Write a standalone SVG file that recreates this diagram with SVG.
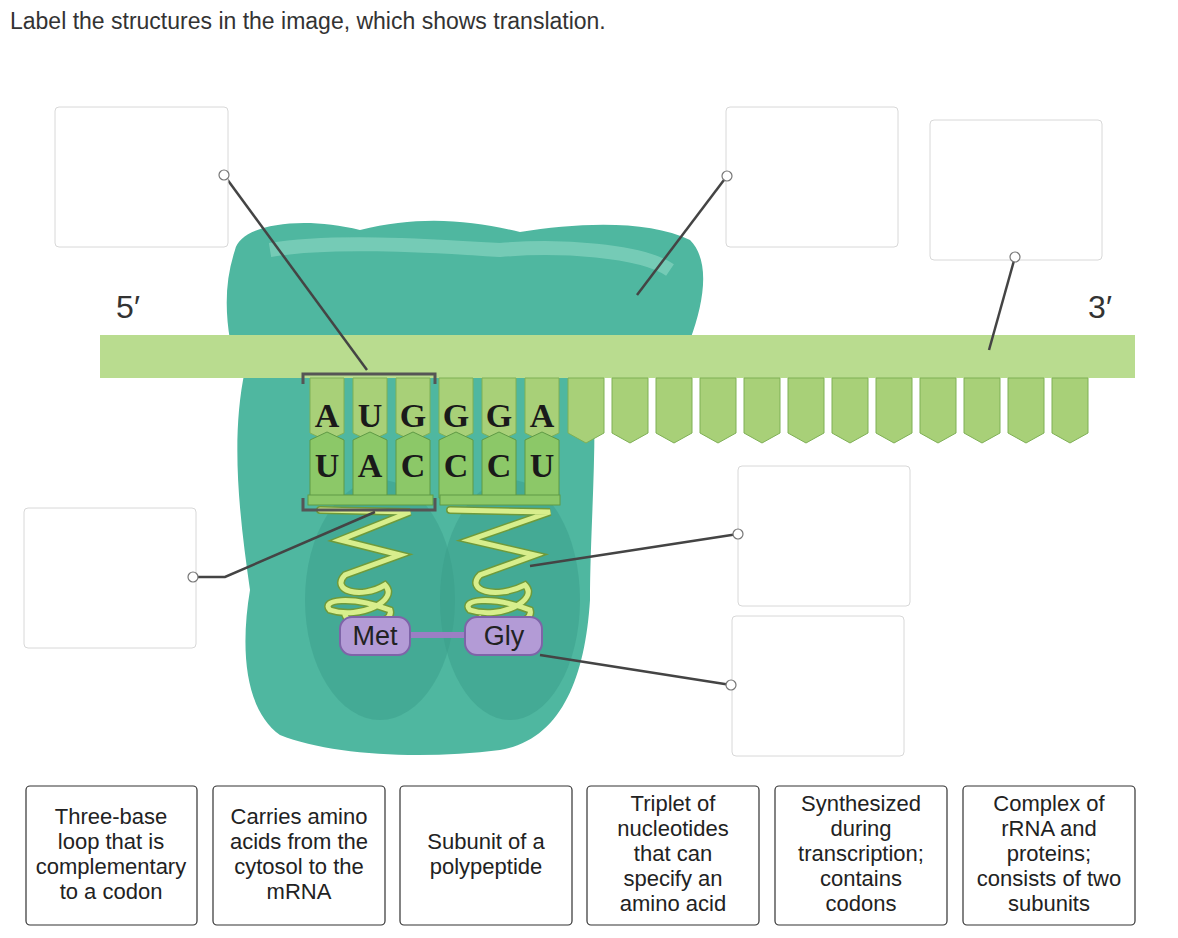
<svg xmlns="http://www.w3.org/2000/svg" width="1178" height="938" viewBox="0 0 1178 938">
<style>
.ans{fill:#fff;stroke:#d8d8d8;stroke-width:1}
.lab{fill:#fff;stroke:#333;stroke-width:1.2}
.t{font-family:"Liberation Sans",Arial,sans-serif;font-size:22px;fill:#222;text-anchor:middle}
.aat{font-family:"Liberation Sans",Arial,sans-serif;font-size:27px;fill:#222;text-anchor:middle}
.nt{font-family:"Liberation Serif","Times New Roman",serif;font-size:34px;font-weight:bold;fill:#1a1a1a;text-anchor:middle}
.ld{stroke:#444;stroke-width:2.5;fill:none}
.hd{fill:#fff;stroke:#777;stroke-width:1.2}
.tooth{fill:#a8d078;stroke:#7fb055;stroke-width:1}
.coil{fill:none;stroke:#6f9a3a;stroke-width:8;stroke-linecap:round}
.coil2{fill:none;stroke:#d8ee8c;stroke-width:5;stroke-linecap:round}
.aa{fill:#b39bd6;stroke:#7e64a8;stroke-width:2}
.br{fill:none;stroke:#555;stroke-width:3}
</style>
<rect width="1178" height="938" fill="#fff"/>
<text x="10" y="29" font-family="'Liberation Sans',Arial,sans-serif" font-size="23" fill="#333">Label the structures in the image, which shows translation.</text>
<g id="ribosome">
<path d="M235,250 C240,225 300,215 360,230 C420,215 470,220 520,232 C580,222 650,220 690,240 C710,260 705,300 690,340 L590,345 C600,420 590,520 590,600 C585,680 560,740 500,750 C420,760 330,755 280,735 C245,710 240,650 250,590 C240,520 230,440 245,370 L230,340 C225,310 225,280 235,250 Z" fill="#4fb7a0"/>
<path d="M270,250 C330,240 420,245 500,250 C560,245 640,250 670,270" stroke="#8fd8c4" stroke-width="14" fill="none" opacity="0.6"/>
<ellipse cx="380" cy="600" rx="75" ry="120" fill="#3a9e8a" opacity="0.5"/>
<ellipse cx="510" cy="600" rx="70" ry="120" fill="#3a9e8a" opacity="0.5"/>
</g>
<g id="mrna">
<rect x="100" y="335" width="1035" height="43" fill="#b9dc8f"/>
<g id="teeth">
<path class="tooth" d="M568,378h36v55l-18,10l-18,-10z"/>
<path class="tooth" d="M612,378h36v55l-18,10l-18,-10z"/>
<path class="tooth" d="M656,378h36v55l-18,10l-18,-10z"/>
<path class="tooth" d="M700,378h36v55l-18,10l-18,-10z"/>
<path class="tooth" d="M744,378h36v55l-18,10l-18,-10z"/>
<path class="tooth" d="M788,378h36v55l-18,10l-18,-10z"/>
<path class="tooth" d="M832,378h36v55l-18,10l-18,-10z"/>
<path class="tooth" d="M876,378h36v55l-18,10l-18,-10z"/>
<path class="tooth" d="M920,378h36v55l-18,10l-18,-10z"/>
<path class="tooth" d="M964,378h36v55l-18,10l-18,-10z"/>
<path class="tooth" d="M1008,378h36v55l-18,10l-18,-10z"/>
<path class="tooth" d="M1052,378h36v55l-18,10l-18,-10z"/>
</g>
<g id="codons">
<path class="tooth" d="M310,378h34v55l-17,8l-17,-8z"/>
<path class="tooth" d="M353,378h34v55l-17,8l-17,-8z"/>
<path class="tooth" d="M396,378h34v55l-17,8l-17,-8z"/>
<path class="tooth" d="M439,378h34v55l-17,8l-17,-8z"/>
<path class="tooth" d="M482,378h34v55l-17,8l-17,-8z"/>
<path class="tooth" d="M525,378h34v55l-17,8l-17,-8z"/>
<path d="M310,440l17,-8l17,8v58h-34z M353,440l17,-8l17,8v58h-34z M396,440l17,-8l17,8v58h-34z" fill="#8cc868" stroke="#5f9a45"/>
<rect x="308" y="495" width="125" height="10" fill="#8cc868" stroke="#5f9a45"/>
<path d="M439,440l17,-8l17,8v58h-34z M482,440l17,-8l17,8v58h-34z M525,440l17,-8l17,8v58h-34z" fill="#8cc868" stroke="#5f9a45"/>
<rect x="440" y="495" width="120" height="10" fill="#8cc868" stroke="#5f9a45"/>
<text class="nt" x="327" y="427">A</text><text class="nt" x="370" y="427">U</text><text class="nt" x="413" y="427">G</text><text class="nt" x="456" y="427">G</text><text class="nt" x="499" y="427">G</text><text class="nt" x="542" y="427">A</text>
<text class="nt" x="327" y="477">U</text><text class="nt" x="370" y="477">A</text><text class="nt" x="413" y="477">C</text><text class="nt" x="456" y="477">C</text><text class="nt" x="499" y="477">C</text><text class="nt" x="542" y="477">U</text>
</g>
<text x="128" y="318" font-family="'Liberation Sans',Arial,sans-serif" font-size="32" fill="#333" text-anchor="middle">5′</text>
<text x="1100" y="318" font-family="'Liberation Sans',Arial,sans-serif" font-size="32" fill="#333" text-anchor="middle">3′</text>
</g>
<g id="trna">
<g>
<path class="coil" d="M320,510 L410,512 L340,540 L400,555 L345,575 C330,590 360,600 385,585 C400,600 360,620 330,610 C320,600 350,595 390,610 C395,625 350,630 345,615"/>
<path class="coil2" d="M320,510 L410,512 L340,540 L400,555 L345,575 C330,590 360,600 385,585 C400,600 360,620 330,610 C320,600 350,595 390,610 C395,625 350,630 345,615"/>
</g>
<g>
<path class="coil" d="M450,510 L550,512 L470,540 L535,555 L480,575 C465,590 495,600 525,585 C540,600 500,620 470,610 C460,600 490,595 530,610 C535,625 490,630 480,618"/>
<path class="coil2" d="M450,510 L550,512 L470,540 L535,555 L480,575 C465,590 495,600 525,585 C540,600 500,620 470,610 C460,600 490,595 530,610 C535,625 490,630 480,618"/>
</g>
</g>
<g id="peptide">
<line x1="405" y1="635" x2="470" y2="635" stroke="#9b7fc4" stroke-width="6"/>
<rect class="aa" x="340" y="617" width="70" height="38" rx="12"/>
<rect class="aa" x="465" y="617" width="77" height="38" rx="12"/>
<text class="aat" x="375" y="645">Met</text>
<text class="aat" x="504" y="645">Gly</text>
</g>
<g id="brackets">
<path class="br" d="M303,384v-10h132v10"/>
<path class="br" d="M303,498v12h132v-12"/>
</g>
<g id="connectors">
<path class="ld" d="M224,175 L367,370"/>
<path class="ld" d="M727,176 L637,295"/>
<path class="ld" d="M1015,257 L989,350"/>
<path class="ld" d="M193,577 L225,577 L375,512"/>
<path class="ld" d="M738,534 L530,566"/>
<path class="ld" d="M731,685 L540,655"/>
</g>
<g id="answer-boxes">
<rect class="ans" x="55" y="107" width="173" height="140" rx="4"/>
<rect class="ans" x="726" y="107" width="172" height="140" rx="4"/>
<rect class="ans" x="930" y="120" width="172" height="140" rx="4"/>
<rect class="ans" x="24" y="508" width="172" height="140" rx="4"/>
<rect class="ans" x="738" y="466" width="172" height="140" rx="4"/>
<rect class="ans" x="732" y="616" width="172" height="140" rx="4"/>
<circle class="hd" cx="224" cy="175" r="5"/>
<circle class="hd" cx="727" cy="176" r="5"/>
<circle class="hd" cx="1015" cy="257" r="5"/>
<circle class="hd" cx="193" cy="577" r="5"/>
<circle class="hd" cx="738" cy="534" r="5"/>
<circle class="hd" cx="731" cy="685" r="5"/>
</g>
<g id="labels">
<rect class="lab" x="26" y="786" width="171" height="139" rx="4"/>
<text class="t"><tspan x="111" y="824">Three-base</tspan><tspan x="111" y="849">loop that is</tspan><tspan x="111" y="874">complementary</tspan><tspan x="111" y="899">to a codon</tspan></text>
<rect class="lab" x="213" y="786" width="172" height="139" rx="4"/>
<text class="t"><tspan x="299" y="824">Carries amino</tspan><tspan x="299" y="849">acids from the</tspan><tspan x="299" y="874">cytosol to the</tspan><tspan x="299" y="899">mRNA</tspan></text>
<rect class="lab" x="400" y="786" width="172" height="139" rx="4"/>
<text class="t"><tspan x="486" y="849">Subunit of a</tspan><tspan x="486" y="874">polypeptide</tspan></text>
<rect class="lab" x="587" y="786" width="172" height="139" rx="4"/>
<text class="t"><tspan x="673" y="811">Triplet of</tspan><tspan x="673" y="836">nucleotides</tspan><tspan x="673" y="861">that can</tspan><tspan x="673" y="886">specify an</tspan><tspan x="673" y="911">amino acid</tspan></text>
<rect class="lab" x="775" y="786" width="172" height="139" rx="4"/>
<text class="t"><tspan x="861" y="811">Synthesized</tspan><tspan x="861" y="836">during</tspan><tspan x="861" y="861">transcription;</tspan><tspan x="861" y="886">contains</tspan><tspan x="861" y="911">codons</tspan></text>
<rect class="lab" x="963" y="786" width="172" height="139" rx="4"/>
<text class="t"><tspan x="1049" y="811">Complex of</tspan><tspan x="1049" y="836">rRNA and</tspan><tspan x="1049" y="861">proteins;</tspan><tspan x="1049" y="886">consists of two</tspan><tspan x="1049" y="911">subunits</tspan></text>
</g>
</svg>
